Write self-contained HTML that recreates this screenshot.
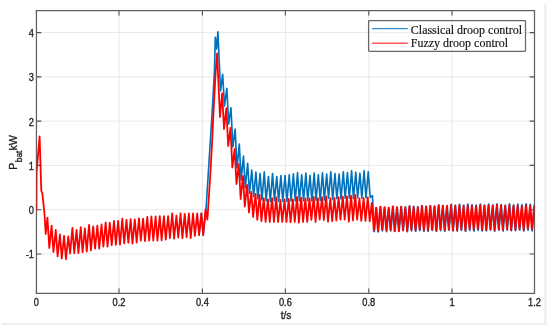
<!DOCTYPE html>
<html><head><meta charset="utf-8"><title>Pbat</title><style>
html,body{margin:0;padding:0;background:#fff;}
body{width:550px;height:330px;overflow:hidden;position:relative;}
svg{position:absolute;left:0;top:0;display:block;}
.tk{font-family:"Liberation Sans",Arial,sans-serif;font-size:9.3px;fill:#1e1e1e;stroke:#1e1e1e;stroke-width:0.3px;}
.lg{font-family:"Liberation Serif","Times New Roman",serif;font-size:12.7px;fill:#111;stroke:#111;stroke-width:0.15px;}
</style></head><body>
<svg width="550" height="330" viewBox="0 0 550 330">
<rect x="0" y="0" width="550" height="330" fill="#fff"/>
<g>
<path d="M545.4 3.5V324.9" stroke="#efefef" stroke-width="2.4" fill="none"/><path d="M1.5 323.9H544.2" stroke="#efefef" stroke-width="2" fill="none"/>
<g stroke="#e2e2e2" stroke-width="0.8" fill="none"><line x1="119.00" y1="10.60" x2="119.00" y2="293.40"/><line x1="202.40" y1="10.60" x2="202.40" y2="293.40"/><line x1="285.40" y1="10.60" x2="285.40" y2="293.40"/><line x1="368.80" y1="10.60" x2="368.80" y2="293.40"/><line x1="452.00" y1="10.60" x2="452.00" y2="293.40"/><line x1="36.45" y1="253.98" x2="534.50" y2="253.98"/><line x1="36.45" y1="209.70" x2="534.50" y2="209.70"/><line x1="36.45" y1="165.42" x2="534.50" y2="165.42"/><line x1="36.45" y1="121.14" x2="534.50" y2="121.14"/><line x1="36.45" y1="76.86" x2="534.50" y2="76.86"/><line x1="36.45" y1="32.58" x2="534.50" y2="32.58"/></g>
<path d="M36.45 293.40V288.50M36.45 10.60V15.50M119.00 293.40V288.50M119.00 10.60V15.50M202.40 293.40V288.50M202.40 10.60V15.50M285.40 293.40V288.50M285.40 10.60V15.50M368.80 293.40V288.50M368.80 10.60V15.50M452.00 293.40V288.50M452.00 10.60V15.50M534.50 293.40V288.50M534.50 10.60V15.50M36.45 253.98H41.35M534.50 253.98H529.60M36.45 209.70H41.35M534.50 209.70H529.60M36.45 165.42H41.35M534.50 165.42H529.60M36.45 121.14H41.35M534.50 121.14H529.60M36.45 76.86H41.35M534.50 76.86H529.60M36.45 32.58H41.35M534.50 32.58H529.60" stroke="#505050" stroke-width="1.1" fill="none"/>
<rect x="36.45" y="10.60" width="498.05" height="282.80" fill="none" stroke="#606060" stroke-width="1.25"/>
<defs><clipPath id="ax"><rect x="36.45" y="10.60" width="498.05" height="282.80"/></clipPath></defs>
<g clip-path="url(#ax)" fill="none" stroke-width="1.8" stroke-linejoin="round" stroke-linecap="round">
<path d="M199.05 235.20L201.36 213.40L203.21 235.20L206.20 207.00L208.50 170.00L210.40 140.00L212.30 110.00L214.50 70.00L215.30 37.20L216.60 49.00L217.90 31.80L220.56 91.00L222.66 74.25L224.51 106.00L226.82 88.25L228.67 124.00L230.98 107.75L232.83 147.00L235.14 129.15L236.99 168.00L239.30 144.15L241.15 180.00L243.46 156.05L245.31 188.00L247.62 163.25L249.47 193.50L251.78 170.00L253.63 196.50L255.94 172.20L257.79 198.80L260.10 173.60L261.95 199.90L264.26 171.80L266.11 201.00L268.42 176.50L270.27 201.40L272.58 173.60L274.43 200.70L276.74 176.50L278.59 201.40L280.90 175.60L282.75 201.40L285.06 175.60L286.91 201.40L289.22 174.90L291.07 201.20L293.38 173.80L295.23 201.00L297.54 172.70L299.39 200.70L301.70 174.90L303.55 201.00L305.86 173.10L307.71 200.70L310.02 175.30L311.87 201.00L314.18 173.10L316.03 200.50L318.34 174.70L320.19 200.50L322.50 172.90L324.35 200.10L326.66 174.00L328.51 198.30L330.82 171.80L332.67 199.80L334.98 173.60L336.83 198.70L339.14 174.00L340.99 199.00L343.30 171.80L345.15 198.30L347.46 172.50L349.31 198.30L351.62 170.70L353.47 198.70L355.78 172.20L357.63 197.90L359.94 173.20L361.79 198.20L364.10 170.70L365.95 197.70L368.26 171.70L370.20 197.50L372.40 195.50L374.30 231.60L376.48 207.79L378.33 231.87L380.64 206.78L382.49 231.04L384.80 207.38L386.65 231.72L388.96 207.78L390.81 230.89L393.12 206.57L394.97 231.37L397.28 207.47L399.13 231.44L401.44 206.46L403.29 230.72L405.60 207.06L407.45 231.69L409.76 206.06L411.61 230.86L413.92 206.65L415.77 231.54L418.08 207.05L419.93 230.71L422.24 205.79L424.09 231.19L426.40 206.59L428.25 231.26L430.56 205.49L432.41 230.54L434.72 205.99L436.57 231.51L438.88 204.88L440.73 230.69L443.04 205.38L444.89 231.36L447.20 205.68L449.05 230.54L451.36 204.38L453.21 231.01L455.52 205.20L457.37 231.09L459.68 204.28L461.53 230.37L463.84 204.96L465.69 231.35L468.00 204.03L469.85 230.53L472.16 204.71L474.01 231.20L476.32 205.19L478.17 230.38L480.48 204.07L482.33 230.86L484.64 205.05L486.49 230.94L488.80 204.13L490.65 230.22L492.96 204.81L494.81 231.20L497.12 203.89L498.97 230.38L501.28 204.57L503.13 231.06L505.44 205.05L507.29 230.24L509.60 203.93L511.45 230.72L513.76 204.90L515.61 230.80L517.92 203.98L519.77 230.07L522.08 204.66L523.93 231.05L526.24 203.74L528.09 230.23L530.40 204.42L532.25 230.91L534.56 204.90L536.41 230.10L538.72 203.80L540.57 230.60" stroke="#0072bd" stroke-width="1.65"/>
<path d="M36.45 209.70L36.60 172.00L39.60 136.30L41.30 190.60L42.40 193.80L43.40 203.40L44.50 214.00L45.70 234.00L47.44 217.60L49.29 248.00L51.60 225.60L53.45 252.00L55.76 230.00L57.61 256.40L59.92 234.40L61.77 258.60L64.08 235.80L65.93 259.30L68.24 236.50L70.09 253.50L72.40 227.80L74.25 253.10L76.56 230.00L78.41 253.10L80.72 227.10L82.57 252.20L84.88 228.50L86.73 251.50L89.04 224.90L90.89 250.40L93.20 226.40L95.05 248.60L97.36 225.60L99.21 248.60L101.52 224.50L103.37 246.70L105.68 222.40L107.53 246.70L109.84 222.70L111.69 245.30L114.00 220.90L115.85 244.90L118.16 220.90L120.01 244.70L122.32 218.70L124.17 243.30L126.48 219.80L128.33 242.90L130.64 219.10L132.49 243.60L134.80 219.40L136.65 242.60L138.96 218.40L140.81 240.70L143.12 218.70L144.97 241.10L147.28 216.90L149.13 240.70L151.44 216.50L153.29 240.70L155.60 216.50L157.45 240.70L159.76 216.10L161.61 240.40L163.92 216.10L165.77 239.60L168.08 216.10L169.93 238.20L172.24 213.50L174.09 238.60L176.40 215.70L178.25 237.50L180.56 213.50L182.41 238.20L184.72 213.90L186.57 237.10L188.88 213.50L190.73 238.20L193.04 213.50L194.89 236.00L197.20 213.50L199.05 235.20L201.36 213.40L203.21 235.20L205.50 209.50L207.40 219.50L210.60 170.00L212.20 140.00L213.60 110.00L215.80 70.00L217.10 53.50L220.00 117.00L222.16 93.50L224.01 129.00L226.32 108.20L228.17 146.00L230.48 128.00L232.33 167.50L234.64 149.00L236.49 184.00L238.80 164.20L240.65 199.00L242.96 176.00L244.81 206.50L247.12 185.00L248.97 212.50L251.28 192.00L253.13 217.00L255.44 193.80L257.29 219.80L259.60 194.90L261.45 221.20L263.76 198.20L265.61 222.00L267.92 199.30L269.77 222.00L272.08 198.20L273.93 222.00L276.24 197.40L278.09 222.00L280.40 200.00L282.25 222.00L284.56 199.50L286.41 222.00L288.72 199.00L290.57 222.40L292.88 199.40L294.73 222.00L297.04 196.90L298.89 222.70L301.20 197.60L303.05 222.00L305.36 198.40L307.21 222.00L309.52 198.40L311.37 219.80L313.68 196.90L315.53 222.00L317.84 198.20L319.69 219.70L322.00 197.10L323.85 220.10L326.16 196.40L328.01 221.60L330.32 198.20L332.17 221.20L334.48 197.80L336.33 220.50L338.64 197.10L340.49 219.70L342.80 196.70L344.65 219.70L346.96 196.40L348.81 221.60L351.12 195.60L352.97 220.50L355.28 194.90L357.13 219.70L359.44 198.50L361.29 221.00L363.60 197.90L365.45 221.00L367.76 197.30L369.70 221.30L371.80 203.20L373.85 230.60L376.08 207.60L377.93 231.24L380.24 206.65L382.09 229.97L384.40 207.10L386.25 230.70L388.56 207.55L390.41 229.93L392.72 206.40L394.57 231.06L396.88 207.15L398.73 230.99L401.04 206.60L402.89 230.26L405.20 207.19L407.05 231.30L409.36 206.18L411.21 229.94L413.52 206.58L415.37 230.58L417.68 206.97L419.53 229.72L421.84 205.76L423.69 230.76L426.00 206.45L427.85 230.59L430.16 205.84L432.01 229.83L434.32 206.44L436.17 230.87L438.48 205.43L440.33 229.51L442.64 205.82L444.49 230.15L446.80 206.21L448.65 229.29L450.96 205.00L452.81 230.33L455.12 205.70L456.97 230.19L459.28 205.20L461.13 229.48L463.44 205.90L465.29 230.56L467.60 205.00L469.45 229.25L471.76 205.50L473.61 229.93L475.92 206.00L477.77 229.11L480.08 204.90L481.93 230.20L484.24 205.70L486.09 230.08L488.40 205.20L490.25 229.37L492.56 205.90L494.41 230.45L496.72 205.00L498.57 229.14L500.88 205.50L502.73 229.82L505.04 206.00L506.89 229.00L509.20 204.90L511.05 230.09L513.36 205.70L515.21 229.97L517.52 205.20L519.37 229.26L521.68 205.90L523.53 230.34L525.84 205.00L527.69 229.03L530.00 205.50L531.85 229.71L534.16 206.00L536.01 228.90L538.32 204.90L540.17 230.00" stroke="#ff0000"/>
</g>
<g class="tk"><text transform="translate(36.45 306.1) scale(1 1.130)" text-anchor="middle">0</text><text transform="translate(119.00 306.1) scale(1 1.130)" text-anchor="middle">0.2</text><text transform="translate(202.40 306.1) scale(1 1.130)" text-anchor="middle">0.4</text><text transform="translate(285.40 306.1) scale(1 1.130)" text-anchor="middle">0.6</text><text transform="translate(368.80 306.1) scale(1 1.130)" text-anchor="middle">0.8</text><text transform="translate(452.00 306.1) scale(1 1.130)" text-anchor="middle">1</text><text transform="translate(534.50 306.1) scale(1 1.130)" text-anchor="middle">1.2</text><text transform="translate(33.9 258.48) scale(1 1.130)" text-anchor="end">-1</text><text transform="translate(33.9 214.20) scale(1 1.130)" text-anchor="end">0</text><text transform="translate(33.9 169.92) scale(1 1.130)" text-anchor="end">1</text><text transform="translate(33.9 125.64) scale(1 1.130)" text-anchor="end">2</text><text transform="translate(33.9 81.36) scale(1 1.130)" text-anchor="end">3</text><text transform="translate(33.9 37.08) scale(1 1.130)" text-anchor="end">4</text></g>
<text class="tk" transform="translate(286 319.2) scale(1 1.130)" text-anchor="middle" style="font-size:10.2px">t/s</text>
<g class="tk" transform="translate(16.7 169.7) rotate(-90)"><text style="font-size:10.6px">P</text><text x="7.5" y="5.6" style="font-size:8.3px">bat</text><text x="19.2" style="font-size:10.6px">kW</text></g>
<g>
<rect x="368.6" y="20.5" width="156.9" height="30.8" fill="#fff" fill-opacity="0.25" stroke="#666" stroke-width="1.25" rx="0.8"/>
<line x1="372" y1="28.6" x2="407.8" y2="28.6" stroke="#0072bd" stroke-width="1.1" opacity="0.8"/>
<line x1="372" y1="43.2" x2="407.8" y2="43.2" stroke="#ff0000" stroke-width="1.4" opacity="0.65"/>
<text class="lg" transform="translate(410.8 33.7) scale(0.945 1)">Classical droop control</text>
<text class="lg" transform="translate(410.8 47.4) scale(0.945 1)">Fuzzy droop control</text>
</g>
</g>
</svg>
</body></html>
